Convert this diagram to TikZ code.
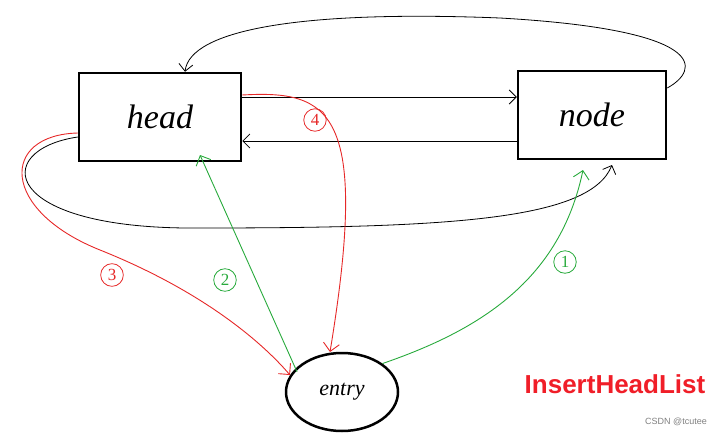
\documentclass[tikz,border=0pt]{standalone}
\usepackage{fontspec}
\usetikzlibrary{shapes.geometric,arrows.meta}
\setmainfont{Liberation Sans}
\newfontfamily\hand{Liberation Serif}
\begin{document}
\begin{tikzpicture}[x=1pt,y=-1pt,
 box/.style={draw,line width=2.5pt,minimum width=162pt,minimum height=88pt,font=\hand\itshape\fontsize{34}{36}\selectfont},
 blk/.style={-{Straight Barb[length=7pt]},line width=0.8pt},
 red/.style={-{Straight Barb[length=8pt]},draw={rgb,255:red,230;green,40;blue,40},line width=0.9pt},
 grn/.style={-{Straight Barb[length=8pt]},draw={rgb,255:red,40;green,170;blue,60},line width=0.9pt},
 lab/.style={draw,circle,inner sep=3pt,font=\hand\fontsize{17}{17}\selectfont,line width=0.8pt}]
\useasboundingbox (0,0) rectangle (725,442);
\node[box] (head) at (160,117) {head};
\node[box,minimum width=148pt] (node) at (592,115) {node};
\node[draw,ellipse,line width=2.5pt,minimum width=112pt,minimum height=78pt,font=\hand\itshape\fontsize{22}{24}\selectfont] (entry) at (342,392) {entry};
\node[text={rgb,255:red,240;green,30;blue,40},font=\bfseries\fontsize{26}{28}\selectfont] (title) at (615,384) {InsertHeadList};
\node[text=gray,font=\fontsize{9}{10}\selectfont] (csdn) at (676,422) {CSDN @tcutee};
\coordinate (ht) at (185,70);
\draw[blk] ([yshift=20pt]head.east) -- ([yshift=18pt]node.west);
\draw[blk] ([yshift=-26pt]node.west) -- ([yshift=-24pt]head.east);
\draw[blk] ([yshift=27pt]node.east) .. controls (700,70) and (710,30) .. (500,18) .. controls (300,10) and (190,30) .. (head.north -| ht);
\draw[blk] ([yshift=-20pt]head.west) .. controls (-10,150) and (0,230) .. (200,228) .. controls (450,228) and (590,220) .. (612,165);
\draw[red] ([yshift=-16pt]head.west) .. controls (0,135) and (0,210) .. (100,250) .. controls (200,290) and (260,340) .. (290,375);
\draw[red] ([yshift=22pt]head.east) .. controls (330,90) and (370,110) .. (330,352);
\draw[grn] ([xshift=-45pt,yshift=-20pt]entry.north) -- (200,155);
\draw[grn] (entry.north east) .. controls (480,330) and (560,280) .. (583,170);
\node[lab,draw={rgb,255:red,230;green,40;blue,40},text={rgb,255:red,230;green,40;blue,40}] (l3) at (112,275) {3};
\node[lab,draw={rgb,255:red,230;green,40;blue,40},text={rgb,255:red,230;green,40;blue,40}] (l4) at (315,120) {4};
\node[lab,draw={rgb,255:red,40;green,170;blue,60},text={rgb,255:red,40;green,170;blue,60}] (l2) at (225,280) {2};
\node[lab,draw={rgb,255:red,40;green,170;blue,60},text={rgb,255:red,40;green,170;blue,60}] (l1) at (565,262) {1};
\end{tikzpicture}
\end{document}
